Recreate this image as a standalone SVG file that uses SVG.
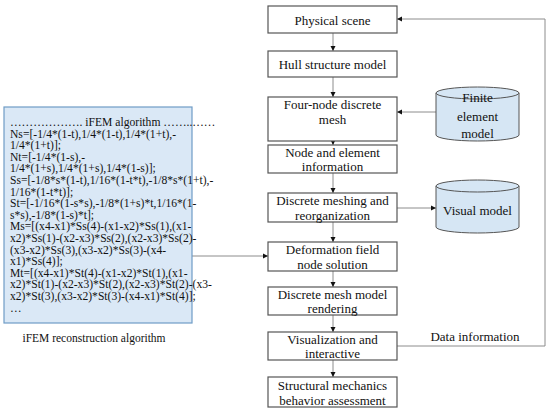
<svg xmlns="http://www.w3.org/2000/svg" width="550" height="414" viewBox="0 0 550 414">
<style>
text{font-family:"Liberation Serif","Times New Roman",serif;fill:#111;}
.box{fill:#fff;stroke:#555;stroke-width:1.2;}
.bt{font-size:13px;text-anchor:middle;}
.cyl{fill:#d6e6f4;stroke:#555;stroke-width:1;}
.con{fill:none;stroke:#8c8c8c;stroke-width:1;}
.pt{font-size:11.6px;}
</style>
<defs>
<marker id="ah" markerUnits="userSpaceOnUse" markerWidth="6" markerHeight="6" refX="5" refY="3" orient="auto">
<path d="M0,0.5 L5,3 L0,5.5 z" fill="#111"/>
</marker>
</defs>
<rect width="550" height="414" fill="#fff"/>

<g id="connectors">
<line class="con" x1="333" y1="33" x2="333" y2="51" marker-end="url(#ah)"/>
<line class="con" x1="333" y1="77" x2="333" y2="97" marker-end="url(#ah)"/>
<line class="con" x1="333" y1="141" x2="333" y2="145" marker-end="url(#ah)"/>
<line class="con" x1="333" y1="173" x2="333" y2="193" marker-end="url(#ah)"/>
<line class="con" x1="333" y1="222" x2="333" y2="242" marker-end="url(#ah)"/>
<line class="con" x1="333" y1="271" x2="333" y2="287" marker-end="url(#ah)"/>
<line class="con" x1="333" y1="315" x2="333" y2="332" marker-end="url(#ah)"/>
<line class="con" x1="333" y1="360" x2="333" y2="377" marker-end="url(#ah)"/>
<line class="con" x1="436" y1="112" x2="397" y2="112" marker-end="url(#ah)"/>
<line class="con" x1="397" y1="208" x2="436" y2="208" marker-end="url(#ah)"/>
<line class="con" x1="192" y1="256" x2="268" y2="256" marker-end="url(#ah)"/>
<polyline class="con" points="397,346 545,346 545,19 397,19" marker-end="url(#ah)"/>
<text x="475" y="341" font-size="13" text-anchor="middle">Data information</text>
</g>

<g id="n1"><rect class="box" x="268" y="6" width="129" height="27"/><text class="bt" x="332.5" y="24.5">Physical scene</text></g>
<g id="n2"><rect class="box" x="268" y="51" width="129" height="26"/><text class="bt" x="332.5" y="68.5">Hull structure model</text></g>
<g id="n3"><rect class="box" x="268" y="97" width="129" height="44"/><text class="bt" x="332.5" y="109">Four-node discrete</text><text class="bt" x="332.5" y="124">mesh</text></g>
<g id="n4"><rect class="box" x="268" y="145" width="129" height="28"/><text class="bt" x="332.5" y="157">Node and element</text><text class="bt" x="332.5" y="171">information</text></g>
<g id="n5"><rect class="box" x="268" y="193" width="129" height="29"/><text class="bt" x="332.5" y="205">Discrete meshing and</text><text class="bt" x="332.5" y="220">reorganization</text></g>
<g id="n6"><rect class="box" x="268" y="242" width="129" height="29"/><text class="bt" x="332.5" y="253.5">Deformation field</text><text class="bt" x="332.5" y="268.5">node solution</text></g>
<g id="n7"><rect class="box" x="268" y="287" width="129" height="28"/><text class="bt" x="332.5" y="298.5">Discrete mesh model</text><text class="bt" x="332.5" y="313">rendering</text></g>
<g id="n8"><rect class="box" x="268" y="332" width="129" height="28"/><text class="bt" x="332.5" y="343.5">Visualization and</text><text class="bt" x="332.5" y="358">interactive</text></g>
<g id="n9"><rect class="box" x="268" y="377" width="129" height="30"/><text class="bt" x="332.5" y="389.5">Structural mechanics</text><text class="bt" x="332.5" y="404.5">behavior assessment</text></g>

<g id="fem">
<path class="cyl" d="M436,93 L436,135 A41.5,6 0 0 0 519,135 L519,93"/>
<ellipse class="cyl" cx="477.5" cy="93" rx="41.5" ry="6"/>
<text class="bt" x="477.5" y="102">Finite</text>
<text class="bt" x="477.5" y="121">element</text>
<text class="bt" x="477.5" y="138">model</text>
</g>
<g id="visual">
<path class="cyl" d="M436,186 L436,227 A41.5,6 0 0 0 519,227 L519,186"/>
<ellipse class="cyl" cx="477.5" cy="186" rx="41.5" ry="6"/>
<text class="bt" x="477.5" y="214.5">Visual model</text>
</g>

<g id="panel">
<rect x="4" y="107" width="188" height="216" fill="#dae8f6" stroke="#6f9cc6" stroke-width="1.2"/>
<text class="pt" x="10" y="126">………………. iFEM algorithm ……..……</text>
<text class="pt" x="10" y="137.6">Ns=[-1/4*(1-t),1/4*(1-t),1/4*(1+t),-</text>
<text class="pt" x="10" y="149.2">1/4*(1+t)];</text>
<text class="pt" x="10" y="160.8">Nt=[-1/4*(1-s),-</text>
<text class="pt" x="10" y="172.4">1/4*(1+s),1/4*(1+s),1/4*(1-s)];</text>
<text class="pt" x="10" y="184">Ss=[-1/8*s*(1-t),1/16*(1-t*t),-1/8*s*(1+t),-</text>
<text class="pt" x="10" y="195.6">1/16*(1-t*t)];</text>
<text class="pt" x="10" y="207.2">St=[-1/16*(1-s*s),-1/8*(1+s)*t,1/16*(1-</text>
<text class="pt" x="10" y="218.8">s*s),-1/8*(1-s)*t];</text>
<text class="pt" x="10" y="230.4">Ms=[(x4-x1)*Ss(4)-(x1-x2)*Ss(1),(x1-</text>
<text class="pt" x="10" y="242">x2)*Ss(1)-(x2-x3)*Ss(2),(x2-x3)*Ss(2)-</text>
<text class="pt" x="10" y="253.6">(x3-x2)*Ss(3),(x3-x2)*Ss(3)-(x4-</text>
<text class="pt" x="10" y="265.2">x1)*Ss(4)];</text>
<text class="pt" x="10" y="276.8">Mt=[(x4-x1)*St(4)-(x1-x2)*St(1),(x1-</text>
<text class="pt" x="10" y="288.4">x2)*St(1)-(x2-x3)*St(2),(x2-x3)*St(2)-(x3-</text>
<text class="pt" x="10" y="300">x2)*St(3),(x3-x2)*St(3)-(x4-x1)*St(4)];</text>
<text class="pt" x="10" y="311.6">…</text>
</g>
<text x="94" y="342" font-size="11.5" text-anchor="middle">iFEM reconstruction algorithm</text>
</svg>
